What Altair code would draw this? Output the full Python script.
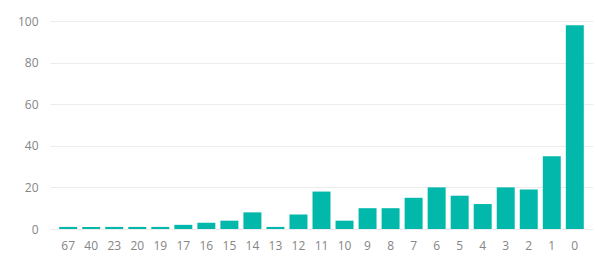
import altair as alt
import pandas as pd

categories = ["67", "40", "23", "20", "19", "17", "16", "15", "14", "13", "12", "11",
              "10", "9", "8", "7", "6", "5", "4", "3", "2", "1", "0"]
values = [1, 1, 1, 1, 1, 2, 3, 4, 8, 1, 7, 18, 4, 10, 10, 15, 20, 16, 12, 20, 19, 35, 98]

df = pd.DataFrame({"cat": categories, "val": values})

chart = alt.Chart(df).mark_bar(color="#01B8AA").encode(
    x=alt.X("cat:N", sort=categories, title=None,
            scale=alt.Scale(paddingInner=0.22, paddingOuter=0.4),
            axis=alt.Axis(labelAngle=0, ticks=False, domain=False, labelPadding=11,
                          labelColor="#858585", labelFontSize=12, labelFont="Open Sans")),
    y=alt.Y("val:Q", title=None,
            scale=alt.Scale(domain=[0, 100], nice=False),
            axis=alt.Axis(values=[0, 20, 40, 60, 80, 100], ticks=False, domain=False,
                          labelPadding=12, labelColor="#858585", labelFontSize=12,
                          labelFont="Open Sans", gridColor="#ececec", gridWidth=1)),
).properties(
    width=543, height=208,
    autosize=alt.AutoSizeParams(type="none"),
    padding={"left": 50, "top": 21, "right": 5, "bottom": 38},
).configure_view(stroke=None).configure_axisX(grid=False)

chart.save("out.html", embed_options={"renderer": "svg", "actions": False})
